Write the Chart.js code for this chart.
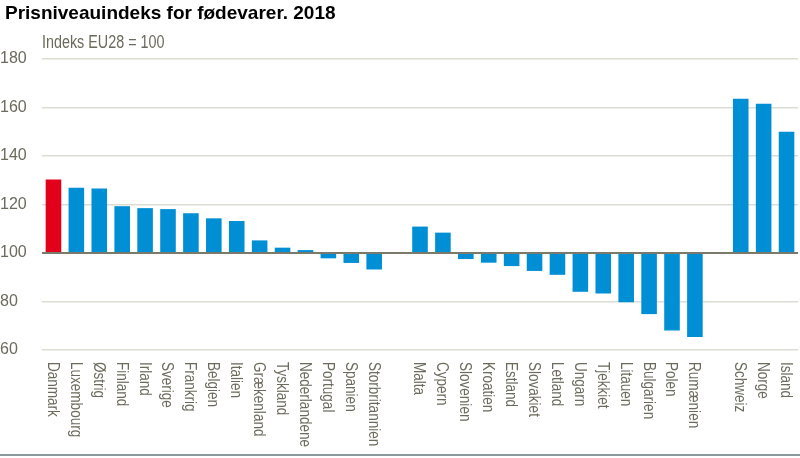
<!DOCTYPE html>
<html>
<head>
<meta charset="utf-8">
<script src="https://cdn.jsdelivr.net/npm/chart.js@4.4.1/dist/chart.umd.min.js"></script>
<style>
html,body{margin:0;padding:0;background:#fff;}
#wrap{width:800px;height:458px;position:relative;}
</style>
</head>
<body>
<div id="wrap"><canvas id="c"></canvas></div>
<script>
const title = "Prisniveauindeks for fødevarer. 2018";
const subtitle = "Indeks EU28 = 100";
const categories = ["Danmark","Luxembourg","Østrig","Finland","Irland","Sverige","Frankrig","Belgien","Italien","Grækenland","Tyskland","Nederlandene","Portugal","Spanien","Storbritannien","",
  "Malta","Cypern","Slovenien","Kroatien","Estland","Slovakiet","Letland","Ungarn","Tjekkiet","Litauen","Bulgarien","Polen","Rumænien","",
  "Schweiz","Norge","Island"];
const values = [130.3,126.9,126.6,119.3,118.5,118.1,116.4,114.3,113.2,105.2,102.2,101.2,97.8,95.9,93.2,null,
  110.9,108.4,97.5,96.0,94.6,92.6,91.0,84.0,83.3,79.7,74.8,68.0,65.4,null,
  163.6,161.5,150.0];
const baseValue = 100;
const highlight = "Danmark";
const yTicks = [60,80,100,120,140,160,180];

const FONT = "'Liberation Sans',Arial,sans-serif";
const NARROW_SCALE = 0.82;
const BLUE = "#008fd5";
const RED = "#e3001b";
const TXT = "#6b6a5c";

function narrowText(ctx, text, x, y, rot) {
  ctx.save();
  ctx.translate(x, y);
  if (rot) ctx.rotate(rot);
  ctx.scale(NARROW_SCALE, 1);
  ctx.fillText(text, 0, 0);
  ctx.restore();
}

const labelsPlugin = {
  id: 'customText',
  afterDatasetsDraw(chart) {
    const ctx = chart.ctx;
    const y = chart.scales.y;
    const area = chart.chartArea;
    const py = y.getPixelForValue(baseValue);
    ctx.save();
    ctx.strokeStyle = '#7a796b';
    ctx.lineWidth = 2;
    ctx.beginPath();
    ctx.moveTo(area.left, py);
    ctx.lineTo(area.right, py);
    ctx.stroke();
    ctx.restore();
  },
  afterDraw(chart) {
    const ctx = chart.ctx;
    const x = chart.scales.x;
    ctx.save();
    ctx.fillStyle = '#000';
    ctx.font = "bold 19px " + FONT;
    ctx.textAlign = 'left';
    ctx.textBaseline = 'alphabetic';
    ctx.fillText(title, 5, 19);
    ctx.fillStyle = TXT;
    ctx.font = "17.5px " + FONT;
    narrowText(ctx, subtitle, 42, 48, 0);
    ctx.font = "16.5px " + FONT;
    ctx.textBaseline = 'middle';
    categories.forEach((c, i) => {
      if (!c) return;
      const px = x.getPixelForValue(i);
      narrowText(ctx, c, px - 1, 362, Math.PI / 2);
    });
    ctx.strokeStyle = '#8c9a9d';
    ctx.lineWidth = 2;
    ctx.beginPath();
    ctx.moveTo(0, 455);
    ctx.lineTo(800, 455);
    ctx.stroke();
    ctx.restore();
  }
};

new Chart(document.getElementById('c'), {
  type: 'bar',
  data: {
    labels: categories,
    datasets: [{
      data: values.map(v => v === null ? null : [baseValue, v]),
      backgroundColor: categories.map(c => c === highlight ? RED : BLUE),
      borderWidth: 0,
      barPercentage: 0.68,
      categoryPercentage: 1.0
    }]
  },
  options: {
    responsive: true,
    maintainAspectRatio: false,
    animation: false,
    layout: { padding: { top: 59, right: 2, left: 0, bottom: 0 } },
    plugins: { legend: { display: false }, tooltip: { enabled: false }, title: { display: false } },
    scales: {
      x: {
        grid: { display: false },
        border: { display: false },
        ticks: { display: false },
        afterFit(scale) { scale.height = 108; }
      },
      y: {
        min: 60, max: 180,
        afterBuildTicks(scale) { scale.ticks = yTicks.map(v => ({ value: v })); },
        afterFit(scale) { scale.width = 42; },
        border: { display: false },
        grid: {
          drawTicks: false,
          color: ctx => ctx.tick && ctx.tick.value === baseValue ? '#7a796b' : '#dcdcd3',
          lineWidth: ctx => ctx.tick && ctx.tick.value === baseValue ? 2 : 1.5
        },
        ticks: {
          crossAlign: 'far',
          padding: 6,
          color: TXT,
          font: { family: FONT, size: 16 }
        }
      }
    }
  },
  plugins: [labelsPlugin]
});
</script>
</body>
</html>
